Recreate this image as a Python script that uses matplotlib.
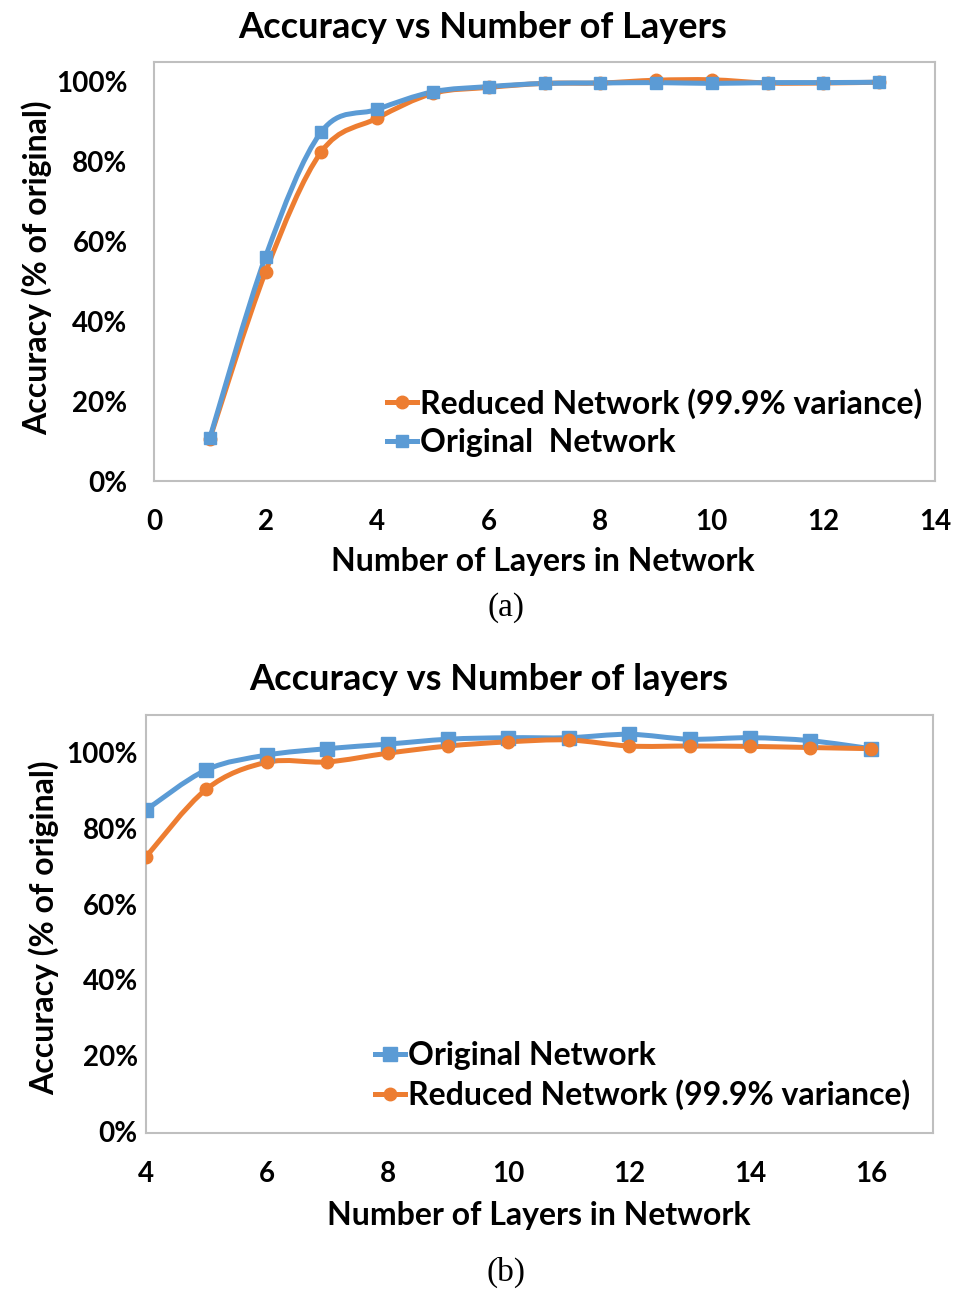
import matplotlib
matplotlib.use("Agg")
import matplotlib.pyplot as plt
from matplotlib.path import Path
from matplotlib.patches import PathPatch
from matplotlib.ticker import PercentFormatter
import numpy as np

# ---------------- data ----------------
layers_a = [1, 2, 3, 4, 5, 6, 7, 8, 9, 10, 11, 12, 13]
reduced_a = [10.5, 52.3, 82.3, 90.7, 96.9, 98.4, 99.4, 99.5, 100.2, 100.3, 99.5, 99.5, 99.7]
original_a = [10.7, 56.1, 87.3, 92.9, 97.3, 98.6, 99.4, 99.5, 99.6, 99.4, 99.6, 99.6, 99.7]

layers_b = [4, 5, 6, 7, 8, 9, 10, 11, 12, 13, 14, 15, 16]
original_b = [84.9, 95.5, 99.4, 101.1, 102.3, 103.6, 104.0, 104.0, 104.9, 103.6, 104.0, 103.2, 101.1]
reduced_b = [72.5, 90.4, 97.5, 97.6, 99.9, 101.8, 102.9, 103.4, 101.8, 101.8, 101.7, 101.4, 101.1]

ticks_a_x = [0, 2, 4, 6, 8, 10, 12, 14]
ticks_b_x = [4, 6, 8, 10, 12, 14, 16]
ticks_y = [0, 20, 40, 60, 80, 100]

ORANGE = "#ED7D31"
BLUE = "#5B9BD5"
GRID = "#BFBFBF"
FONT = "Lato"

plt.rcParams['font.family'] = [FONT, 'DejaVu Sans']

W, H = 965, 1305
TICK_FS = 20
LABEL_FS = 23
TITLE_FS = 26
LEG_FS = 23


def smooth_path(xs, ys):
    xs = np.asarray(xs, float)
    ys = np.asarray(ys, float)
    n = len(xs)
    verts = [(xs[0], ys[0])]
    codes = [Path.MOVETO]
    for i in range(n - 1):
        p0 = np.array([xs[max(i - 1, 0)], ys[max(i - 1, 0)]])
        p1 = np.array([xs[i], ys[i]])
        p2 = np.array([xs[i + 1], ys[i + 1]])
        p3 = np.array([xs[min(i + 2, n - 1)], ys[min(i + 2, n - 1)]])
        c1 = p1 + (p2 - p0) / 6.0
        c2 = p2 - (p3 - p1) / 6.0
        verts += [tuple(c1), tuple(c2), tuple(p2)]
        codes += [Path.CURVE4] * 3
    return Path(verts, codes)


def draw_series(ax, xs, ys, color, marker, label, ms):
    patch = PathPatch(smooth_path(xs, ys), facecolor='none', edgecolor=color,
                      lw=3.6, capstyle='round', joinstyle='round', zorder=3)
    ax.add_patch(patch)
    ax.plot(xs, ys, linestyle='none', marker=marker, color=color, ms=ms, zorder=4)
    ax.plot([], [], color=color, lw=3.6, marker=marker, ms=ms, label=label)


fig = plt.figure(figsize=(9.65, 13.05), dpi=100)


def axes_px(l, t, r, b):
    return fig.add_axes([l / W, 1 - b / H, (r - l) / W, (b - t) / H])


def style_axes(ax, ypad):
    for s in ax.spines.values():
        s.set_color(GRID)
        s.set_linewidth(1.5)
    ax.tick_params(axis='x', length=0, labelsize=TICK_FS, pad=20)
    ax.tick_params(axis='y', length=0, labelsize=TICK_FS, pad=ypad)
    for lab in ax.get_xticklabels() + ax.get_yticklabels():
        lab.set_fontweight('bold')
    ax.yaxis.set_major_formatter(PercentFormatter(decimals=0))


def legend_px(ax, x, y):
    leg = ax.legend(loc='upper left', bbox_to_anchor=(x / W, 1 - y / H),
                    bbox_transform=fig.transFigure, frameon=False,
                    fontsize=LEG_FS, handlelength=0.95, handletextpad=0.08,
                    labelspacing=0.3, borderpad=0.0, borderaxespad=0.0)
    for t in leg.get_texts():
        t.set_fontweight('bold')
    return leg


# ---------------- panel (a) ----------------
ax1 = axes_px(154, 62, 935, 481)
draw_series(ax1, layers_a, reduced_a, ORANGE, 'o', 'Reduced Network (99.9% variance)', 9)
draw_series(ax1, layers_a, original_a, BLUE, 's', 'Original  Network', 9)
ax1.set_xlim(0, 14)
ax1.set_ylim(0, 104.75)
ax1.set_xticks(ticks_a_x)
ax1.set_yticks(ticks_y)
style_axes(ax1, 19)
fig.text(483 / W, 1 - 27 / H, 'Accuracy vs Number of Layers', fontsize=TITLE_FS,
         fontweight='bold', ha='center', va='center')
fig.text(543 / W, 1 - 562 / H, 'Number of Layers in Network', fontsize=LABEL_FS,
         fontweight='bold', ha='center', va='center')
fig.text(37 / W, 1 - 268 / H, 'Accuracy (% of original)', fontsize=LABEL_FS,
         fontweight='bold', ha='center', va='center', rotation=90)
legend_px(ax1, 387, 388)
fig.text(506 / W, 1 - 608 / H, '(a)', fontsize=24, family='Liberation Serif',
         ha='center', va='center')

# ---------------- panel (b) ----------------
ax2 = axes_px(146, 715, 933, 1133)
draw_series(ax2, layers_b, original_b, BLUE, 's', 'Original Network', 10)
draw_series(ax2, layers_b, reduced_b, ORANGE, 'o', 'Reduced Network (99.9% variance)', 9)
ax2.set_xlim(4, 17.03)
ax2.set_ylim(-0.5, 110)
ax2.set_xticks(ticks_b_x)
ax2.set_yticks(ticks_y)
style_axes(ax2, 6)
fig.text(489 / W, 1 - 679 / H, 'Accuracy vs Number of layers', fontsize=TITLE_FS,
         fontweight='bold', ha='center', va='center')
fig.text(539 / W, 1 - 1215 / H, 'Number of Layers in Network', fontsize=LABEL_FS,
         fontweight='bold', ha='center', va='center')
fig.text(44 / W, 1 - 928 / H, 'Accuracy (% of original)', fontsize=LABEL_FS,
         fontweight='bold', ha='center', va='center', rotation=90)
legend_px(ax2, 375, 1041)
fig.text(506 / W, 1 - 1272 / H, '(b)', fontsize=24, family='Liberation Serif',
         ha='center', va='center')

fig.savefig('out.png', dpi=100, facecolor='white')
